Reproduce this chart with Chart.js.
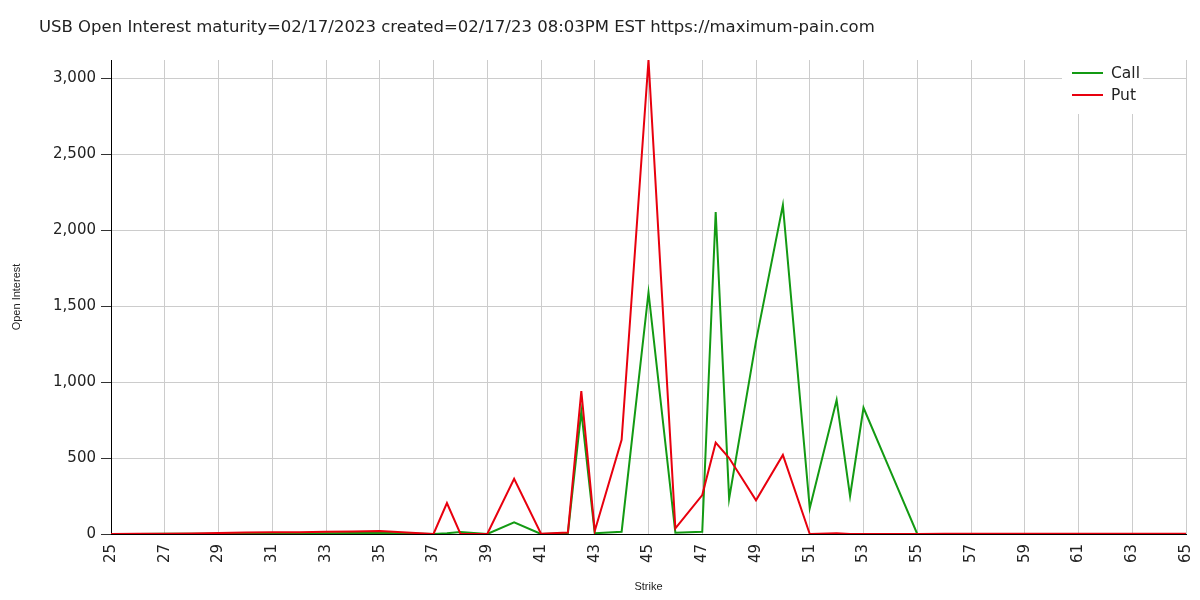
<!DOCTYPE html>
<html>
<head>
<meta charset="utf-8">
<script src="https://cdn.jsdelivr.net/npm/chart.js@4.4.0/dist/chart.umd.min.js"></script>
<style>
  html, body { margin: 0; padding: 0; background: #fff; }
  #wrap { width: 1200px; height: 600px; position: relative; }
</style>
</head>
<body>
<div id="wrap"><canvas id="c" width="1200" height="600"></canvas></div>
<script>
const titleText = "USB Open Interest maturity=02/17/2023 created=02/17/23 08:03PM EST https://maximum-pain.com";
const xTitle = "Strike";
const yTitle = "Open Interest";
const seriesNames = ["Call", "Put"];
const strikes = [25,26,27,28,29,30,31,32,33,34,35,36,37,37.5,38,39,40,41,42,42.5,43,44,45,46,47,47.5,48,49,50,51,52,52.5,53,54,55,56,57,58,59,60,61,62,63,64,65];
const calls   = [0,0,1,1,2,3,3,4,5,6,8,3,0,5,13,0,76,0,5,809,5,15,1590,8,15,2120,232,1270,2165,169,882,250,831,415,0,0,0,0,0,0,0,0,0,0,0];
const puts    = [0,1,2,3,6,10,12,12,14,16,20,10,0,204,2,0,363,2,10,940,20,620,3120,37,256,601,500,222,520,0,5,0,0,0,0,1,1,1,1,1,1,1,1,1,1];
const yTickValues = [0, 500, 1000, 1500, 2000, 2500, 3000];
const xTickValues = [25,27,29,31,33,35,37,39,41,43,45,47,49,51,53,55,57,59,61,63,65];

const callColor = '#139a13';
const putColor = '#e8000e';

const toPoints = vals => strikes.map((s, i) => ({ x: s, y: vals[i] }));

const titlePlugin = {
  id: 'topTitle',
  afterDraw(chart) {
    const ctx = chart.ctx;
    ctx.save();
    ctx.font = '16.5px "DejaVu Sans"';
    ctx.fillStyle = '#222';
    ctx.textBaseline = 'middle';
    ctx.textAlign = 'left';
    ctx.fillText(titleText, 39, 28);
    ctx.restore();
  }
};

const legendPlugin = {
  id: 'boxLegend',
  afterDatasetsDraw(chart) {
    const ctx = chart.ctx;
    const area = chart.chartArea;
    const x0 = area.right - 124, y0 = area.top;
    ctx.save();
    ctx.fillStyle = '#fff';
    ctx.fillRect(x0, y0, 81, 54);
    ctx.font = '15.5px "DejaVu Sans"';
    ctx.textBaseline = 'middle';
    ctx.textAlign = 'left';
    chart.data.datasets.forEach((ds, i) => {
      const y = y0 + 13 + i * 22;
      ctx.strokeStyle = ds.borderColor;
      ctx.lineWidth = 2;
      ctx.beginPath();
      ctx.moveTo(x0 + 10, y);
      ctx.lineTo(x0 + 41, y);
      ctx.stroke();
      ctx.fillStyle = '#222';
      ctx.fillText(ds.label, x0 + 49, y + 1);
    });
    ctx.restore();
  }
};

new Chart(document.getElementById('c'), {
  type: 'line',
  data: {
    datasets: [
      { label: seriesNames[0], data: toPoints(calls), borderColor: callColor, backgroundColor: callColor, borderWidth: 2, pointRadius: 0, tension: 0, order: 1 },
      { label: seriesNames[1], data: toPoints(puts), borderColor: putColor, backgroundColor: putColor, borderWidth: 2, pointRadius: 0, tension: 0, order: 0 }
    ]
  },
  options: {
    responsive: false,
    animation: false,
    devicePixelRatio: 1,
    layout: { padding: { top: 60, right: 14, bottom: 0, left: 0 } },
    plugins: { legend: { display: false }, title: { display: false }, tooltip: { enabled: false } },
    scales: {
      x: {
        type: 'linear',
        min: 25, max: 65,
        afterBuildTicks(s) { s.ticks = xTickValues.map(v => ({ value: v })); },
        afterFit(s) { s.height = 66; s.paddingLeft = 0; s.paddingRight = 0; },
        ticks: { autoSkip: false, maxRotation: 90, minRotation: 90, padding: 10,
                 font: { family: 'DejaVu Sans', size: 15 }, color: '#222',
                 callback: v => String(v) },
        grid: { color: '#cccccc', drawTicks: false },
        border: { color: '#000', width: 1 },
        title: { display: true, text: xTitle, font: { family: 'Liberation Sans', size: 11 }, color: '#222', padding: { top: 0, bottom: 6 } }
      },
      y: {
        min: 0,
        max: Math.max(...puts, ...calls),
        afterBuildTicks(s) { s.ticks = yTickValues.map(v => ({ value: v })); },
        afterFit(s) { s.width = 111; s.paddingTop = 0; s.paddingBottom = 0; },
        ticks: { padding: 5,
                 font: { family: 'DejaVu Sans', size: 15 }, color: '#222',
                 callback: v => v.toLocaleString('en-US') },
        grid: { color: '#cccccc', tickColor: '#333', tickLength: 10 },
        border: { color: '#000', width: 1 },
        title: { display: true, text: yTitle, font: { family: 'Liberation Sans', size: 11 }, color: '#222', padding: { top: 10, bottom: 0 } }
      }
    }
  },
  plugins: [titlePlugin, legendPlugin]
});
</script>
</body>
</html>
